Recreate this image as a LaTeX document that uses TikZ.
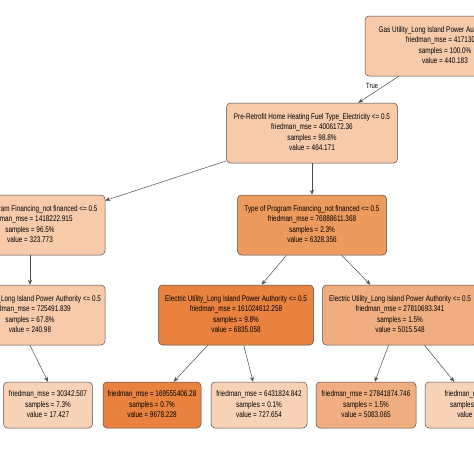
\documentclass[tikz,border=0pt]{standalone}
\usepackage{fontspec}
\setmainfont{Liberation Sans}
\usetikzlibrary{arrows.meta}
\definecolor{cA}{HTML}{F7CAAA}
\definecolor{cL}{HTML}{F8D2B6}
\definecolor{cB}{HTML}{EC9A5E}
\definecolor{cC}{HTML}{E8823E}
\definecolor{cD}{HTML}{F0AE80}
\newcommand{\nt}[1]{\scalebox{0.78}[1]{\begin{tabular}{@{}c@{}}#1\end{tabular}}}
\begin{document}
\begin{tikzpicture}[x=1pt,y=-1pt,
  box/.style={draw=black!70,rounded corners=4pt,align=center,inner sep=2pt,font=\fontsize{8.2}{10.5}\selectfont,line width=0.5pt},
  int/.style={box,minimum width=#1,minimum height=60},
  leaf/.style={box,minimum width=#1,minimum height=46},
  edge/.style={draw=black!70,line width=0.5pt,-{Stealth[length=5pt,width=4pt]}}]
\useasboundingbox (0,0) rectangle (474,474);
\clip (0,0) rectangle (474,474);
\fill[white] (0,0) rectangle (474,474);
\node[int=160,fill=cA] (r) at (445,46) {\nt{Gas Utility\_Long Island Power Authority <= 0.5\\friedman\_mse = 4171308.1\\samples = 100.0\%\\value = 440.183}};
\node[int=171,fill=cA] (n1) at (312,133) {\nt{Pre-Retrofit Home Heating Fuel Type\_Electricity <= 0.5\\friedman\_mse = 4006172.36\\samples = 98.8\%\\value = 464.171}};
\node[int=150,fill=cA] (n2) at (30,225) {\nt{Type of Program Financing\_not financed <= 0.5\\friedman\_mse = 1418222.915\\samples = 96.5\%\\value = 323.773}};
\node[int=149,fill=cB] (n3) at (312,225) {\nt{Type of Program Financing\_not financed <= 0.5\\friedman\_mse = 76888611.368\\samples = 2.3\%\\value = 6328.356}};
\node[int=150,fill=cA] (n4) at (30,315) {\nt{Electric Utility\_Long Island Power Authority <= 0.5\\friedman\_mse = 725491.839\\samples = 67.8\%\\value = 240.98}};
\node[int=155,fill=cC] (n5) at (236,315) {\nt{Electric Utility\_Long Island Power Authority <= 0.5\\friedman\_mse = 161024612.258\\samples = 9.8\%\\value = 6835.058}};
\node[int=155,fill=cD] (n6) at (400,315) {\nt{Electric Utility\_Long Island Power Authority <= 0.5\\friedman\_mse = 27810693.341\\samples = 1.5\%\\value = 5015.548}};
\node[leaf=89,fill=cL] (l1) at (48,405) {\nt{friedman\_mse = 30342.507\\samples = 7.3\%\\value = 17.427}};
\node[leaf=98,fill=cC] (l2) at (152,405) {\nt{friedman\_mse = 169555406.28\\samples = 0.7\%\\value = 9678.228}};
\node[leaf=96,fill=cL] (l3) at (259,405) {\nt{friedman\_mse = 6431824.842\\samples = 0.1\%\\value = 727.654}};
\node[leaf=100,fill=cD] (l4) at (366,405) {\nt{friedman\_mse = 27841874.746\\samples = 1.5\%\\value = 5083.065}};
\node[leaf=96,fill=cL] (l5) at (473,405) {\nt{friedman\_mse = 0.0\\samples = 0.0\%\\value = 0.0}};
\path[edge] (r) -- node[pos=0.35,left=3pt,font=\fontsize{7.5}{8}\selectfont]{\scalebox{0.78}[1]{True}} (n1);
\path[edge] (n1) -- (n2);
\path[edge] (n1) -- (n3);
\path[edge] (n2) -- (n4);
\path[edge] (n3) -- (n5);
\path[edge] (n3) -- (n6);
\path[edge] (n4.south) -- (l1.north);
\path[edge] (n5) -- (l2);
\path[edge] (n5) -- (l3);
\path[edge] (n6) -- (l4);
\path[edge] (n6) -- (l5);
\end{tikzpicture}
\end{document}
